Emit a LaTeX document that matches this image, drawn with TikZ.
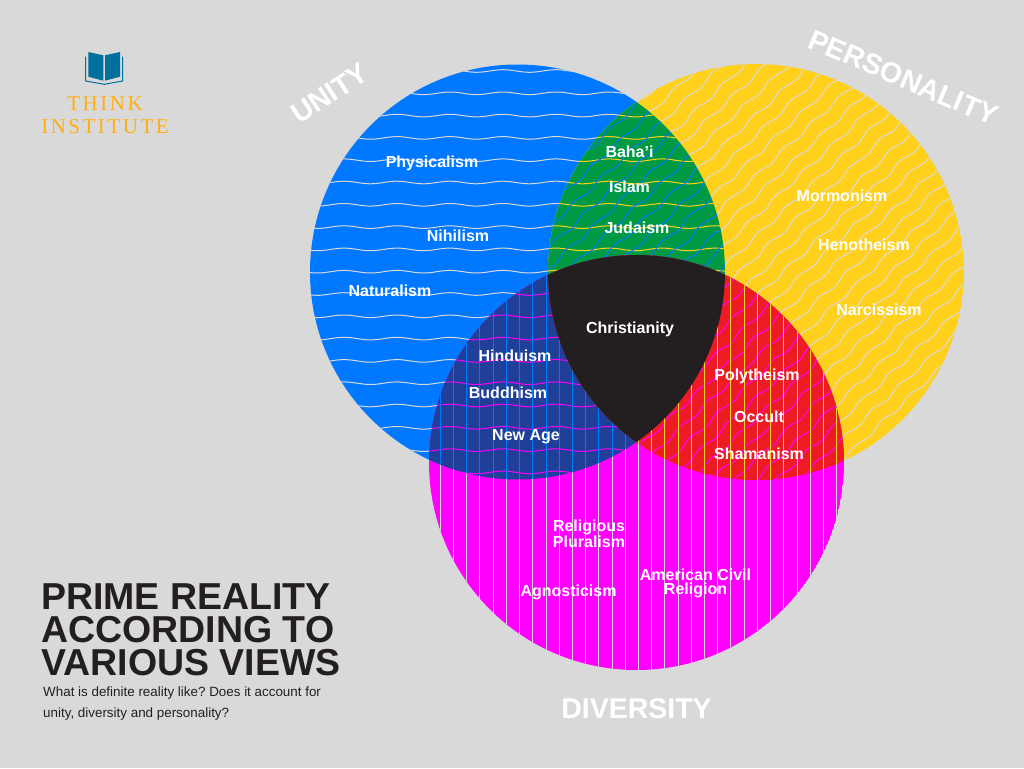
\documentclass[tikz,border=0pt]{standalone}
\usepackage{fontspec}
\setmainfont{Liberation Sans}
\newfontfamily\thinkfont[LetterSpace=12]{Liberation Serif}
\definecolor{pagegray}{HTML}{D9D9D9}
\definecolor{ublue}{HTML}{0078FF}
\definecolor{pyellow}{HTML}{FFD11C}
\definecolor{dmagenta}{HTML}{FF00FF}
\definecolor{upgreen}{HTML}{009A44}
\definecolor{udblue}{HTML}{1F3F98}
\definecolor{pdred}{HTML}{ED1C24}
\definecolor{allblack}{HTML}{231F20}
\definecolor{bookblue}{HTML}{00709C}
\definecolor{thinkorange}{HTML}{FFAE12}
\def\circU{(517.5,272) circle [radius=207.5]}
\def\circP{(756,272) circle [radius=208]}
\def\circD{(636.5,462.5) circle [radius=207.5]}
\newcommand{\hwaves}[1]{%
  \foreach \k in {0,...,18}{%
    \draw[wave,#1] plot[domain=300:735,samples=70,smooth] (\x,{71+22.3*\k-1.3*cos((\x-450)*6.79)});
  }}
\newcommand{\dwaves}[1]{%
  \begin{scope}[shift={(756,272)},rotate=43]
  \foreach \k in {-21,...,20}{%
    \draw[wave,#1] plot[domain=-300:300,samples=90,smooth] (\x,{14.8*\k+3.6+1.8*sin(\x*9.5)});
  }
  \end{scope}}
\newcommand{\vrules}[1]{%
  \foreach \k in {0,...,31}{%
    \draw[wave,line width=0.9pt,#1] ({427.1+13.21*\k},250) -- ({427.1+13.21*\k},675);
  }}
\tikzset{
  wave/.style={line width=1pt},
  viewlabel/.style={text=white,font=\fontsize{16}{14}\selectfont\bfseries,inner sep=0pt,anchor=base,align=center},
  axislabel/.style={text=white,font=\fontsize{28.5}{30}\selectfont\bfseries,inner sep=0pt},
}
\begin{document}
\frenchspacing
\begin{tikzpicture}[x=1pt,y=-1pt]
\useasboundingbox (0,0) rectangle (1024,768);
\fill[pagegray] (0,0) rectangle (1024,768);
% single circles
\begin{scope}\clip \circU; \fill[ublue] \circU; \hwaves{pagegray} \end{scope}
\begin{scope}\clip \circP; \fill[pyellow] \circP; \dwaves{pagegray} \end{scope}
\begin{scope}\clip \circD; \fill[dmagenta] \circD; \vrules{pagegray} \end{scope}
% pair overlaps
\begin{scope}\clip \circU; \clip \circP; \fill[upgreen] (300,50) rectangle (980,690); \hwaves{pyellow} \dwaves{ublue} \end{scope}
\begin{scope}\clip \circU; \clip \circD; \fill[udblue] (300,50) rectangle (980,690); \hwaves{dmagenta} \vrules{ublue} \end{scope}
\begin{scope}\clip \circP; \clip \circD; \fill[pdred] (300,50) rectangle (980,690); \dwaves{dmagenta} \vrules{pyellow} \end{scope}
% centre
\begin{scope}\clip \circU; \clip \circP; \fill[allblack] \circD; \end{scope}
% view labels
\node[viewlabel] (physicalism) at (432,167.5) {Physicalism};
\node[viewlabel] (nihilism) at (458,241.5) {Nihilism};
\node[viewlabel] (naturalism) at (390,296.5) {Naturalism};
\node[viewlabel] (bahai) at (629.5,157.5) {Baha'i};
\node[viewlabel] (islam) at (629.5,192.5) {Islam};
\node[viewlabel] (judaism) at (637,233.5) {Judaism};
\node[viewlabel] (christianity) at (630,333.5) {Christianity};
\node[viewlabel] (hinduism) at (515,361.5) {Hinduism};
\node[viewlabel] (buddhism) at (508,398.5) {Buddhism};
\node[viewlabel] (newage) at (526,440.5) {New Age};
\node[viewlabel] (polytheism) at (757,380.5) {Polytheism};
\node[viewlabel] (occult) at (759,422.5) {Occult};
\node[viewlabel] (shamanism) at (759,459.5) {Shamanism};
\node[viewlabel] (mormonism) at (842,201.5) {Mormonism};
\node[viewlabel] (henotheism) at (864,250.5) {Henotheism};
\node[viewlabel] (narcissism) at (879,315.5) {Narcissism};
\node[viewlabel,anchor=center] (pluralism) at (589,533.5) {Religious\\Pluralism};
\node[viewlabel,anchor=center] (civil) at (695.5,583) {American Civil\\Religion};
\node[viewlabel] (agnosticism) at (568.5,596.5) {Agnosticism};
% circle names
\node[axislabel,anchor=base west,rotate=33] (unity) at (299,125) {UNITY};
\node[axislabel,anchor=base west,rotate=-23] (personality) at (806,47) {PERSONALITY};
\node[axislabel,anchor=base] (diversity) at (636.5,718) {DIVERSITY};
% title block
\node[anchor=north west,inner sep=0pt,align=left,text=allblack,font=\fontsize{37.5}{33}\selectfont\bfseries] (title) at (41,583) {PRIME REALITY\\ACCORDING TO\\VARIOUS VIEWS};
\node[anchor=north west,inner sep=0pt,align=left,text=allblack,font=\fontsize{13.4}{21}\selectfont] (subtitle) at (43,687) {What is definite reality like? Does it account for\\unity, diversity and personality?};
% logo
\fill[bookblue] (88.3,52) -- (103.3,55.3) -- (103.3,80.7) -- (88.3,76.7) -- cycle;
\fill[bookblue] (105,55.3) -- (120,52) -- (120,76.7) -- (105,80.7) -- cycle;
\draw[bookblue,line width=1pt] (85.6,56.7) -- (85.6,81) -- (104.2,84.3) -- (122.6,81) -- (122.6,56.7);
\node[anchor=north,inner sep=0pt,align=center,text=thinkorange,font=\thinkfont\fontsize{21}{23.5}\selectfont] (think) at (105,96.5) {THINK\\INSTITUTE};
\end{tikzpicture}
\end{document}
